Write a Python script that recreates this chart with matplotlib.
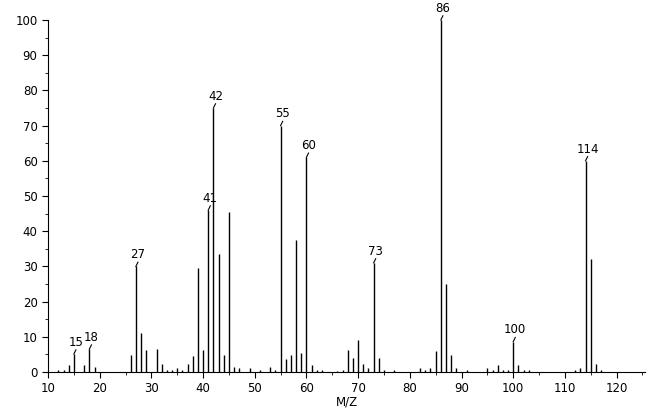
import matplotlib.pyplot as plt
from matplotlib.ticker import MultipleLocator

mz = [12, 13, 14, 15, 17, 18, 19, 26, 27, 28, 29, 31, 32, 33, 34, 35, 36, 37, 38, 39,
      40, 41, 42, 43, 44, 45, 46, 47, 49, 51, 53, 54, 55, 56, 57, 58, 59, 60, 61, 62,
      63, 66, 67, 68, 69, 70, 71, 72, 73, 74, 75, 77, 82, 83, 84, 85, 86, 87, 88, 89,
      91, 95, 96, 97, 98, 99, 100, 101, 102, 103, 112, 113, 114, 115, 116, 117]
intensity = [0.5, 0.5, 2, 5.1, 2, 6.5, 1.5, 4.8, 30, 11, 6.2, 6.5, 2.2, 0.5, 0.5, 1, 0.5, 2.2, 4.5, 29.5,
             6.2, 46, 75, 33.5, 4.8, 45.5, 1.5, 1, 1, 0.5, 1.5, 0.5, 70, 3.8, 4.8, 37.5, 5.5, 61, 2, 0.5,
             0.5, 0.3, 0.5, 6.2, 3.9, 9, 2.3, 1, 31, 3.9, 0.5, 0.5, 1, 0.5, 1, 6, 100, 25, 4.8, 1,
             0.5, 1, 0.5, 2, 0.5, 0.5, 8.6, 2, 0.5, 0.5, 0.5, 1, 60, 32, 2.2, 0.5]
labeled = [15, 18, 27, 41, 42, 55, 60, 73, 86, 100, 114]

fig = plt.figure(figsize=(6.55, 4.15), dpi=100)
ax = fig.add_axes([48 / 655, 43 / 415, 597 / 655, 352 / 415])
ax.vlines(mz, 0, intensity, color='black', linewidth=1)
for m, h in zip(mz, intensity):
    if m in labeled:
        ax.plot([m, m + 0.4], [h, h + 1.2], color='black', linewidth=0.8, clip_on=False)
        ax.text(m + 0.4, h + 1.5, str(m), ha='center', va='bottom', fontsize=8.5, clip_on=False)

ax.set_xlim(10, 125.5)
ax.set_ylim(0, 100)
ax.xaxis.set_major_locator(MultipleLocator(10))
ax.xaxis.set_minor_locator(MultipleLocator(5))
ax.yaxis.set_major_locator(MultipleLocator(10))
ax.yaxis.set_minor_locator(MultipleLocator(5))
ax.tick_params(labelsize=8.5, direction='out', length=4)
ax.tick_params(which='minor', length=2)
ax.spines['top'].set_visible(False)
ax.spines['right'].set_visible(False)
ax.set_xlabel('M/Z', fontsize=8.5, labelpad=0)
fig.savefig('out.png')
